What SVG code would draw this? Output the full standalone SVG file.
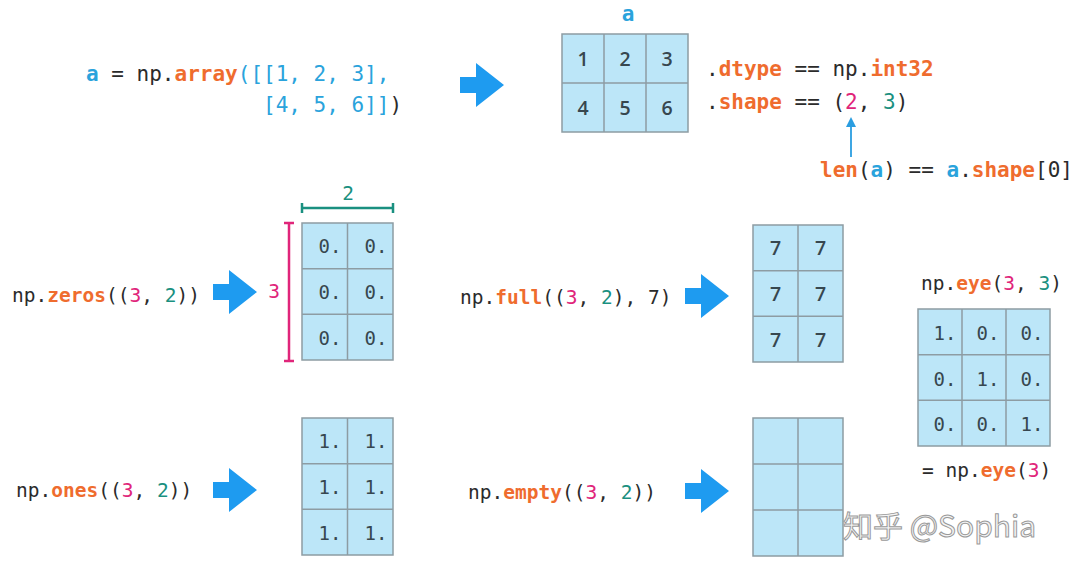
<svg xmlns="http://www.w3.org/2000/svg" width="1080" height="575" viewBox="0 0 1080 575">
<style>
.code{font-family:"DejaVu Sans Mono","Liberation Mono",monospace;fill:#2b2b2b;white-space:pre}
.big{font-size:21px}
.sm{font-size:19.5px}
.o{fill:#ef6c2e;font-weight:bold}
.b{fill:#2aa3dc}
.bb{fill:#2aa3dc;font-weight:bold}
.p{fill:#e0257a}
.t{fill:#1a9080}
.cell{fill:#bce6f8;stroke:#8d9ca3;stroke-width:1.5}
.gl{stroke:#8d9ca3;stroke-width:1.5;fill:none}
.num{font-family:"Open Sans","DejaVu Sans",sans-serif;font-size:19.5px;font-weight:600;fill:#37474f;text-anchor:middle}
.mono{font-family:"DejaVu Sans Mono",monospace;font-size:19px;fill:#37474f;text-anchor:middle}
.arrow{fill:#1e9bf0}
</style>
<defs>
<path id="blk" d="M-22,-8 H-6 V-22 L22,0 L-6,22 V8 H-22 Z"/>
<marker id="ah" markerWidth="10" markerHeight="10" refX="5" refY="5" orient="auto" markerUnits="userSpaceOnUse">
<path d="M0,0 L10,5 L0,10 Z" fill="#2a9de0"/>
</marker>
</defs>
<rect width="1080" height="575" fill="#ffffff"/>

<g id="connectors">
<use href="#blk" class="arrow" transform="translate(482,85)"/>
<use href="#blk" class="arrow" transform="translate(235,292)"/>
<use href="#blk" class="arrow" transform="translate(707,296)"/>
<use href="#blk" class="arrow" transform="translate(235,490)"/>
<use href="#blk" class="arrow" transform="translate(707,491)"/>
<line x1="851" y1="157" x2="851" y2="122" stroke="#2a9de0" stroke-width="1.8" marker-end="url(#ah)"/>
</g>

<g id="code-array">
<text class="code big" x="86" y="81"><tspan class="bb">a</tspan> = np.<tspan class="o">array</tspan><tspan class="b">([[1, 2, 3],</tspan></text>
<text class="code big" x="263" y="112"><tspan class="b">[4, 5, 6]]</tspan>)</text>
</g>

<g id="array-a">
<text class="code big bb" x="628" y="21" text-anchor="middle">a</text>
<rect class="cell" x="562" y="34" width="126" height="98"/>
<path class="gl" d="M604,34 V132 M646,34 V132 M562,83 H688"/>
<text class="num" x="583" y="66">1</text>
<text class="num" x="625" y="66">2</text>
<text class="num" x="667" y="66">3</text>
<text class="num" x="583" y="115">4</text>
<text class="num" x="625" y="115">5</text>
<text class="num" x="667" y="115">6</text>
</g>

<g id="attrs">
<text class="code big" x="706" y="76">.<tspan class="o">dtype</tspan> == np.<tspan class="o">int32</tspan></text>
<text class="code big" x="706" y="109">.<tspan class="o">shape</tspan> == (<tspan class="p">2</tspan>, <tspan class="t">3</tspan>)</text>
<text class="code big" x="820" y="177"><tspan class="o">len</tspan>(<tspan class="bb">a</tspan>) == <tspan class="bb">a</tspan>.<tspan class="o">shape</tspan>[0]</text>
</g>

<g id="zeros">
<text class="code sm" x="12" y="302">np.<tspan class="o">zeros</tspan>((<tspan class="p">3</tspan>, <tspan class="t">2</tspan>))</text>
<text class="code sm p" x="274" y="298" text-anchor="middle">3</text>
<path d="M289,223 V361 M284,223 H294 M284,361 H294" stroke="#e0257a" stroke-width="2.5" fill="none"/>
<text class="code sm t" x="348" y="200" text-anchor="middle">2</text>
<path d="M302,208 H393 M302,203 V213 M393,203 V213" stroke="#1a9080" stroke-width="2.5" fill="none"/>
<rect class="cell" x="302" y="223" width="91" height="137"/>
<path class="gl" d="M347.5,223 V360 M302,268.7 H393 M302,314.3 H393"/>
<text class="mono" x="330" y="253">0.</text>
<text class="mono" x="376" y="253">0.</text>
<text class="mono" x="330" y="299">0.</text>
<text class="mono" x="376" y="299">0.</text>
<text class="mono" x="330" y="344.5">0.</text>
<text class="mono" x="376" y="344.5">0.</text>
</g>

<g id="full">
<text class="code sm" x="460" y="304">np.<tspan class="o">full</tspan>((<tspan class="p">3</tspan>, <tspan class="t">2</tspan>), 7)</text>
<rect class="cell" x="753" y="225" width="90" height="137"/>
<path class="gl" d="M798,225 V362 M753,270.7 H843 M753,316.3 H843"/>
<text class="num" x="775.5" y="255">7</text>
<text class="num" x="820.5" y="255">7</text>
<text class="num" x="775.5" y="300.5">7</text>
<text class="num" x="820.5" y="300.5">7</text>
<text class="num" x="775.5" y="346.5">7</text>
<text class="num" x="820.5" y="346.5">7</text>
</g>

<g id="eye">
<text class="code sm" x="921" y="290">np.<tspan class="o">eye</tspan>(<tspan class="p">3</tspan>, <tspan class="t">3</tspan>)</text>
<rect class="cell" x="918" y="309" width="132" height="137"/>
<path class="gl" d="M962,309 V446 M1006,309 V446 M918,354.7 H1050 M918,400.3 H1050"/>
<text class="mono" x="945" y="340">1.</text>
<text class="mono" x="988" y="340">0.</text>
<text class="mono" x="1032" y="340">0.</text>
<text class="mono" x="945" y="385.5">0.</text>
<text class="mono" x="988" y="385.5">1.</text>
<text class="mono" x="1032" y="385.5">0.</text>
<text class="mono" x="945" y="431">0.</text>
<text class="mono" x="988" y="431">0.</text>
<text class="mono" x="1032" y="431">1.</text>
<text class="code sm" x="922" y="477">= np.<tspan class="o">eye</tspan>(<tspan class="p">3</tspan>)</text>
</g>

<g id="ones">
<text class="code sm" x="16" y="497">np.<tspan class="o">ones</tspan>((<tspan class="p">3</tspan>, <tspan class="t">2</tspan>))</text>
<rect class="cell" x="302" y="418" width="91" height="137"/>
<path class="gl" d="M347.5,418 V555 M302,463.7 H393 M302,509.3 H393"/>
<text class="mono" x="330" y="448">1.</text>
<text class="mono" x="376" y="448">1.</text>
<text class="mono" x="330" y="494">1.</text>
<text class="mono" x="376" y="494">1.</text>
<text class="mono" x="330" y="539.5">1.</text>
<text class="mono" x="376" y="539.5">1.</text>
</g>

<g id="empty">
<text class="code sm" x="468" y="499">np.<tspan class="o">empty</tspan>((<tspan class="p">3</tspan>, <tspan class="t">2</tspan>))</text>
<rect class="cell" x="753" y="418" width="90" height="138"/>
<path class="gl" d="M798,418 V556 M753,464 H843 M753,510 H843"/>
</g>

<g id="watermark">
<text x="843" y="537" font-family="'Noto Sans CJK SC','Noto Sans',sans-serif" font-size="30" fill="#f2f2f2" fill-opacity="0.8" stroke="#9a9a9a" stroke-width="1">知乎 @Sophia</text>
</g>
</svg>
